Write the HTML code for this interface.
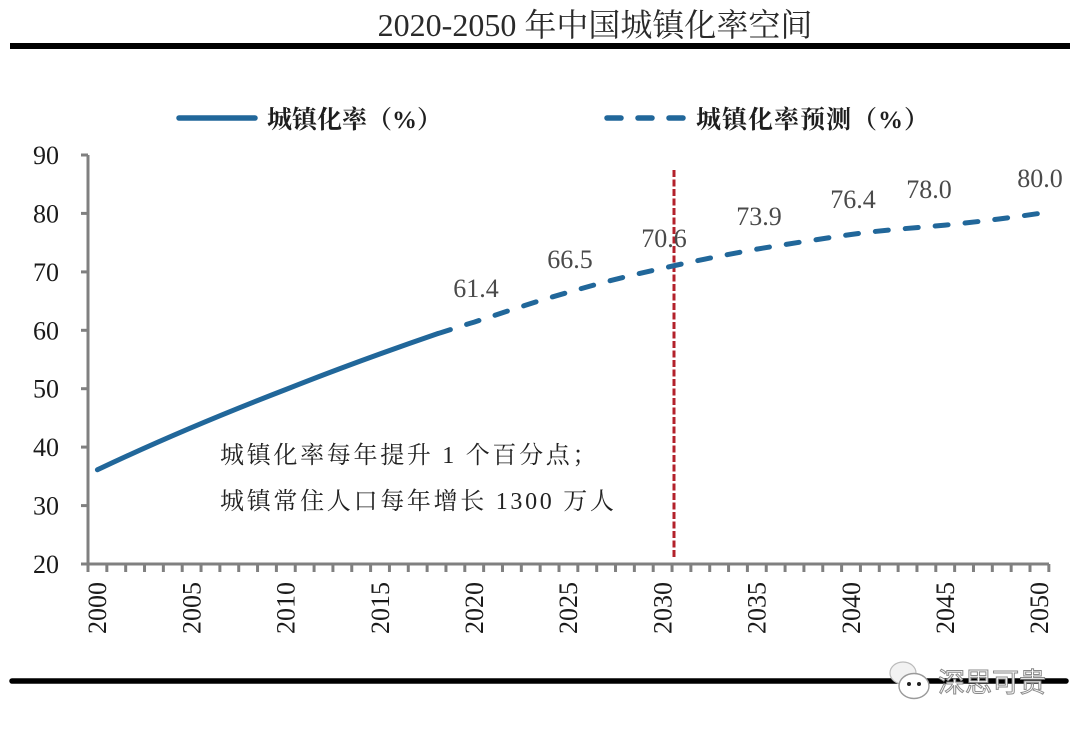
<!DOCTYPE html>
<html>
<head>
<meta charset="utf-8">
<style>
  html,body{margin:0;padding:0;background:#fff;}
  svg{display:block;}
  .serif{font-family:"Liberation Serif","Noto Serif CJK SC",serif;}
</style>
</head>
<body>
<svg width="1080" height="731" viewBox="0 0 1080 731" xmlns="http://www.w3.org/2000/svg">
  <rect width="1080" height="731" fill="#ffffff"/>

  <!-- Title -->
  <text x="595" y="36" text-anchor="middle" class="serif" font-size="32" fill="#2a2a2a">2020-2050 年中国城镇化率空间</text>
  <rect x="10" y="43" width="1060" height="6" fill="#000"/>

  <!-- Legend -->
  <line x1="179" y1="118" x2="255" y2="118" stroke="#21679a" stroke-width="5.5" stroke-linecap="round"/>
  <text x="267" y="128" class="serif" font-size="25" font-weight="bold" fill="#1e1e1e">城镇化率（%）</text>
  <line x1="607" y1="118" x2="686" y2="118" stroke="#21679a" stroke-width="5.5" stroke-linecap="round" stroke-dasharray="14 17"/>
  <text x="696" y="128" class="serif" font-size="25" font-weight="bold" fill="#1e1e1e" letter-spacing="1">城镇化率预测（%）</text>

  <!-- Y axis -->
  <g stroke="#808080" stroke-width="3">
    <line x1="88" y1="155" x2="88" y2="565.5"/>
    <line x1="81" y1="155" x2="88" y2="155"/>
    <line x1="81" y1="213.4" x2="88" y2="213.4"/>
    <line x1="81" y1="271.9" x2="88" y2="271.9"/>
    <line x1="81" y1="330.3" x2="88" y2="330.3"/>
    <line x1="81" y1="388.7" x2="88" y2="388.7"/>
    <line x1="81" y1="447.1" x2="88" y2="447.1"/>
    <line x1="81" y1="505.6" x2="88" y2="505.6"/>
    <line x1="81" y1="564" x2="1049" y2="564"/>
  </g>
  <g class="serif" font-size="26" fill="#1a1a1a" text-anchor="end">
    <text x="59" y="164">90</text>
    <text x="59" y="222.4">80</text>
    <text x="59" y="280.9">70</text>
    <text x="59" y="339.3">60</text>
    <text x="59" y="397.7">50</text>
    <text x="59" y="456.1">40</text>
    <text x="59" y="514.6">30</text>
    <text x="59" y="573">20</text>
  </g>

  <!-- X ticks -->
  <g stroke="#808080" stroke-width="3" id="xticks"></g>

  <!-- X labels -->
  <g class="serif" font-size="26" fill="#1a1a1a" text-anchor="end">
    <text transform="translate(97.4,582) rotate(-90)" dy="0.34em">2000</text>
    <text transform="translate(191.6,582) rotate(-90)" dy="0.34em">2005</text>
    <text transform="translate(285.8,582) rotate(-90)" dy="0.34em">2010</text>
    <text transform="translate(380.0,582) rotate(-90)" dy="0.34em">2015</text>
    <text transform="translate(474.2,582) rotate(-90)" dy="0.34em">2020</text>
    <text transform="translate(568.4,582) rotate(-90)" dy="0.34em">2025</text>
    <text transform="translate(662.6,582) rotate(-90)" dy="0.34em">2030</text>
    <text transform="translate(756.8,582) rotate(-90)" dy="0.34em">2035</text>
    <text transform="translate(851.0,582) rotate(-90)" dy="0.34em">2040</text>
    <text transform="translate(945.2,582) rotate(-90)" dy="0.34em">2045</text>
    <text transform="translate(1039.4,582) rotate(-90)" dy="0.34em">2050</text>
  </g>

  <!-- Red vertical dashed line -->
  <line x1="674" y1="170" x2="674" y2="558" stroke="#b3212b" stroke-width="3" stroke-dasharray="7 2.5"/>

  <!-- Solid series (smoothed) -->
  <path fill="none" stroke="#21679a" stroke-width="5" stroke-linecap="round" stroke-linejoin="round"
    d="M97.4,469.8 C160,440 225,413 285.8,389.5 C340,368 390,350 438,333.5"/>

  <!-- Dashed forecast -->
  <path fill="none" stroke="#21679a" stroke-width="5" stroke-linecap="round" stroke-dasharray="13 17"
    d="M438,333.5 C450,330 462,325.5 474.22,322.1 C505,312 537,301 568.42,292.3 C600,283 631,275 662.62,268.3 C694,261 725,255 756.82,249.1 C788,244 820,239 851.02,234.5 C882,230 914,228 945.22,225.1 C977,222 1008,218 1039.42,213.4"/>

  <!-- Value labels -->
  <g class="serif" font-size="26" fill="#4a4a4a" text-anchor="middle">
    <text x="476" y="297">61.4</text>
    <text x="570" y="268">66.5</text>
    <text x="664" y="247">70.6</text>
    <text x="759" y="225">73.9</text>
    <text x="853" y="208">76.4</text>
    <text x="929" y="198">78.0</text>
    <text x="1040" y="187">80.0</text>
  </g>

  <!-- Annotation -->
  <g class="serif" font-size="24" fill="#222" letter-spacing="2.7">
    <text x="220" y="463">城镇化率每年提升 1 个百分点；</text>
    <text x="220" y="509">城镇常住人口每年增长 1300 万人</text>
  </g>

  <!-- Bottom line -->
  <line x1="12" y1="681" x2="1066" y2="681" stroke="#000" stroke-width="5.5" stroke-linecap="round"/>

  <!-- Watermark -->
  <ellipse cx="903" cy="673" rx="13" ry="11" fill="#f2f2f2" stroke="#bbbbbb" stroke-width="1.2"/>
  <ellipse cx="914" cy="686" rx="15" ry="12.5" fill="#ffffff" stroke="#9a9a9a" stroke-width="1.4"/>
  <circle cx="909" cy="684" r="2" fill="#222"/>
  <circle cx="919" cy="684" r="2" fill="#222"/>
  <text x="938" y="692" font-family="'Liberation Sans','Noto Sans CJK SC',sans-serif" font-size="27" fill="#ffffff" stroke="#8a8a8a" stroke-width="1">深思可贵</text>

  <script>
    (function(){
      var g=document.getElementById('xticks');
      var ns='http://www.w3.org/2000/svg';
      for(var i=0;i<=51;i++){
        var x=88+i*18.84;
        var l=document.createElementNS(ns,'line');
        l.setAttribute('x1',x);l.setAttribute('x2',x);
        l.setAttribute('y1',564);l.setAttribute('y2',572);
        g.appendChild(l);
      }
    })();
  </script>
</svg>
</body>
</html>
